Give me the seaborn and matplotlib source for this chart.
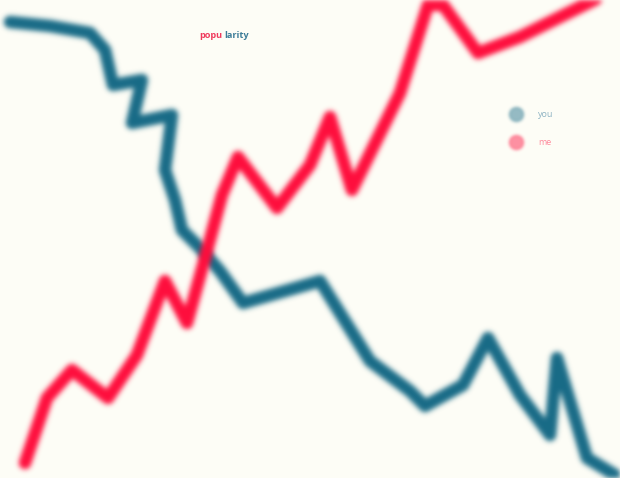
import numpy as np
import pandas as pd
import matplotlib
matplotlib.use('agg')
import matplotlib.pyplot as plt
from matplotlib.lines import Line2D
import seaborn as sns

sns.set_theme(style='white')
plt.rcParams['font.family'] = ['Open Sans', 'DejaVu Sans']

# values (x = time step, y = popularity)
you_x = [10, 50, 90, 105, 113, 142, 132, 172, 165, 175, 182, 200, 220, 243,
         320, 370, 410, 425, 463, 488, 520, 550, 557, 587, 620]
you_y = [456, 452, 445, 428, 393, 398, 355, 363, 308, 278, 248, 230, 207, 175,
         197, 117, 87, 72, 93, 140, 83, 43, 120, 20, 0]
me_x = [25, 47, 72, 108, 137, 165, 187, 205, 222, 238, 277, 310, 330, 352,
        400, 428, 443, 478, 520, 560, 600]
me_y = [15, 80, 108, 80, 123, 197, 155, 220, 283, 321, 270, 313, 361, 288,
        385, 473, 473, 425, 441, 461, 481]

TEAL = '#176a86'
RED = '#ff0d3c'
BG = '#fdfdf6'


def gauss_blur(sigma, color):
    """agg filter: blur the alpha of an artist, keep one flat colour"""
    rgb = np.array(matplotlib.colors.to_rgb(color))
    r = int(sigma * 3) + 1
    k = np.exp(-0.5 * (np.arange(-r, r + 1) / sigma) ** 2)
    k = k / k.sum()

    def f(im, dpi):
        a = np.pad(im[:, :, 3], r)
        a = np.apply_along_axis(lambda v: np.convolve(v, k, 'same'), 0, a)
        a = np.apply_along_axis(lambda v: np.convolve(v, k, 'same'), 1, a)
        out = np.zeros(a.shape + (4,))
        out[:, :, :3] = rgb
        out[:, :, 3] = np.clip(a, 0, 1)
        return out, -r, -r
    return f


you = pd.DataFrame({'x': you_x, 'popularity': you_y})
me = pd.DataFrame({'x': me_x, 'popularity': me_y})

fig = plt.figure(figsize=(6.2, 4.78), dpi=100, facecolor=BG)
ax = fig.add_axes([0, 0, 1, 1])
ax.set_facecolor(BG)

sns.lineplot(data=you, x='x', y='popularity', sort=False, estimator=None,
             color=TEAL, lw=9, ax=ax, solid_capstyle='round',
             solid_joinstyle='round')
sns.lineplot(data=me, x='x', y='popularity', sort=False, estimator=None,
             color=RED, lw=9, ax=ax, solid_capstyle='round',
             solid_joinstyle='round')
ax.lines[0].set_agg_filter(gauss_blur(2.6, TEAL))
ax.lines[1].set_agg_filter(gauss_blur(2.6, RED))

ax.set_xlim(0, 620)
ax.set_ylim(0, 478)
ax.set_axis_off()

# title in two colours
fig.text(199 / 620, 1 - 38 / 478, 'popu', color='#f03a5c', fontsize=6.6,
         fontweight='bold', va='baseline')
fig.text(224 / 620, 1 - 38 / 478, 'larity', color='#3d7d98', fontsize=6.6,
         fontweight='bold', va='baseline')

handles = [Line2D([], [], marker='o', ls='none', ms=10, color=TEAL, alpha=0.45),
           Line2D([], [], marker='o', ls='none', ms=10, color=RED, alpha=0.45)]
leg = ax.legend(handles, ['you', 'me'], loc='upper left',
                bbox_to_anchor=(507 / 620, 1 - 110 / 478),
                bbox_transform=fig.transFigure, frameon=False,
                fontsize=6.5, borderpad=0, borderaxespad=0,
                labelspacing=2.1, handletextpad=1.45,
                labelcolor=['#8fb4c3', '#ff8a9c'])
for h, c in zip(leg.legend_handles, [TEAL, RED]):
    h.set_agg_filter(gauss_blur(1.5, c))

fig.savefig('out.png', dpi=100, facecolor=BG)
